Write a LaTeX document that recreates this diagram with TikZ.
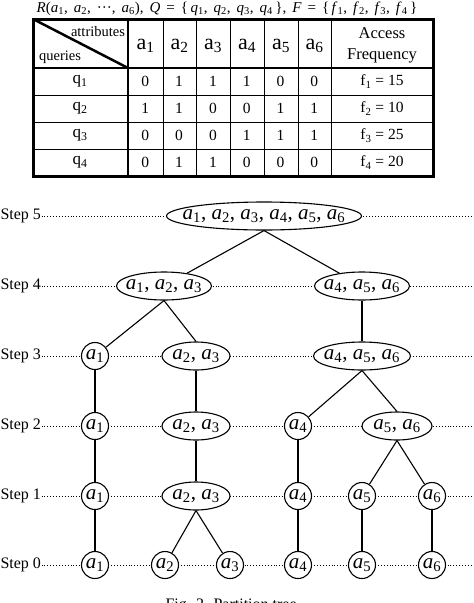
\documentclass[tikz,border=0pt]{standalone}
\usepackage{fontspec}
\setmainfont{Liberation Serif}
\usetikzlibrary{shapes.geometric}

\newcommand{\ai}[1]{\textit{a}\textsubscript{#1}}

\tikzset{
  oval/.style={draw, ellipse, line width=1.1pt, fill=white, inner sep=-30pt,
    minimum width=#1, minimum height=28pt, font=\fontsize{21}{24}\selectfont},
  leaf/.style={draw, circle, line width=1.1pt, fill=white, inner sep=0pt,
    minimum size=27pt, font=\fontsize{21}{24}\selectfont},
  steplabel/.style={anchor=west, inner sep=0pt, font=\fontsize{16}{18}\selectfont},
  steprow/.style={dotted, line width=0.9pt},
  cell/.style={inner sep=0pt, font=\fontsize{15.5}{18}\selectfont},
}

\begin{document}
\begin{tikzpicture}[x=1pt, y=-1pt, line width=1.1pt]
  \useasboundingbox (0,0) rectangle (474,603);

  % Title
  \node[inner sep=0pt, font=\fontsize{15}{16}\selectfont] (title) at (227,9)
    {\spaceskip=0.4em\textit{R}(\ai1, \ai2, ···, \ai6), \textit{Q} = \{\,\textit{q}\textsubscript{1}, \textit{q}\textsubscript{2}, \textit{q}\textsubscript{3}, \textit{q}\textsubscript{4}\,\}, \textit{F} = \{\,\textit{f}\textsubscript{1}, \textit{f}\textsubscript{2}, \textit{f}\textsubscript{3}, \textit{f}\textsubscript{4}\,\}};

  % Table
  \foreach \y in {95,122,149}
    \draw[line width=1pt] (33,\y) -- (433,\y);
  \foreach \x in {163,196,230,264,298,331}
    \draw[line width=1pt] (\x,19) -- (\x,176);
  \draw[line width=2.5pt] (33,68) -- (433,68);
  \draw[line width=2.5pt] (128,19) -- (128,176);
  \draw[line width=2.5pt] (33,19) -- (128,68);
  \draw[line width=3pt] (33,19) rectangle (433,176);

  \node[cell, font=\fontsize{14.5}{16}\selectfont] (attr) at (98,32) {attributes};
  \node[cell, font=\fontsize{14.5}{16}\selectfont] (qry) at (60,57) {queries};
  \foreach \i/\x in {1/145.5,2/179.5,3/213,4/247,5/281,6/314.5}
    \node[cell, font=\fontsize{22}{24}\selectfont] (h\i) at (\x,46) {a\textsubscript{\i}};
  \node[cell, align=center, font=\fontsize{16.5}{21}\selectfont] (hf) at (382,45) {Access\\Frequency};

  \foreach \r/\y/\vals/\f in {1/81.5/{0,1,1,1,0,0}/15, 2/108.5/{1,1,0,0,1,1}/10,
                             3/135.5/{0,0,0,1,1,1}/25, 4/162.5/{0,1,1,0,0,0}/20} {
    \node[cell, font=\fontsize{17}{18}\selectfont] (q\r) at (80,\y) {q\textsubscript{\r}};
    \foreach \v [count=\c] in \vals {
      \pgfmathsetmacro{\cx}{111.5+33.8*\c}
      \node[cell] (v\r\c) at (\cx,\y) {\v};
    }
    \node[cell] (f\r) at (382,\y) {f\textsubscript{\r} = \f};
  }

  % Steps
  \foreach \k/\y in {5/216,4/286,3/356,2/426,1/496,0/565} {
    \node[steplabel] (s\k) at (0,\y) {Step \k};
    \coordinate (e\k) at (474,\y);
    \draw[steprow] (s\k.east) -- (e\k);
  }

  % Step 5
  \node[oval=195pt] (n5) at (264,216) {\ai1, \ai2, \ai3, \ai4, \ai5, \ai6};
  % Step 4
  \node[oval=95pt] (n4a) at (164,286) {\ai1, \ai2, \ai3};
  \node[oval=95pt] (n4b) at (362,286) {\ai4, \ai5, \ai6};
  % Step 3
  \node[leaf] (n3a) at (95,356) {\ai1};
  \node[oval=68pt] (n3b) at (196,356) {\ai2, \ai3};
  \node[oval=97pt] (n3c) at (362,356) {\ai4, \ai5, \ai6};
  % Step 2
  \node[leaf] (n2a) at (95,426) {\ai1};
  \node[oval=68pt] (n2b) at (196,426) {\ai2, \ai3};
  \node[leaf] (n2c) at (298,426) {\ai4};
  \node[oval=70pt] (n2d) at (397,426) {\ai5, \ai6};
  % Step 1
  \node[leaf] (n1a) at (95,496) {\ai1};
  \node[oval=68pt] (n1b) at (196,496) {\ai2, \ai3};
  \node[leaf] (n1c) at (298,496) {\ai4};
  \node[leaf] (n1d) at (362,496) {\ai5};
  \node[leaf] (n1e) at (432,496) {\ai6};
  % Step 0
  \node[leaf] (n0a) at (95,565) {\ai1};
  \node[leaf] (n0b) at (165,565) {\ai2};
  \node[leaf] (n0c) at (230,565) {\ai3};
  \node[leaf] (n0d) at (298,565) {\ai4};
  \node[leaf] (n0e) at (362,565) {\ai5};
  \node[leaf] (n0f) at (432,565) {\ai6};

  % Splits
  \draw (n5.south) -- (n4a);
  \draw (n5.south) -- (n4b);
  \draw (n4a.south) -- (n3a);
  \draw (n4a.south) -- (n3b.north);
  \draw (n3c.south) -- (n2c);
  \draw (n3c.south) -- (n2d.north);
  \draw (n2d.south) -- (n1d);
  \draw (n2d.south) -- (n1e);
  \draw (n1b.south) -- (n0b);
  \draw (n1b.south) -- (n0c);

  % Straight
  \draw (n4b) -- (n3c);
  \draw (n3a) -- (n2a);
  \draw (n2a) -- (n1a);
  \draw (n1a) -- (n0a);
  \draw (n3b) -- (n2b);
  \draw (n2b) -- (n1b);
  \draw (n2c) -- (n1c);
  \draw (n1c) -- (n0d);
  \draw (n1d) -- (n0e);
  \draw (n1e) -- (n0f);

  % Caption
  \begin{scope}
    \clip (0,0) rectangle (474,603);
    \node[anchor=base west, inner sep=0pt, font=\fontsize{16}{18}\selectfont] (cap) at (165,609) {Fig. 2. Partition tree};
  \end{scope}
\end{tikzpicture}
\end{document}
